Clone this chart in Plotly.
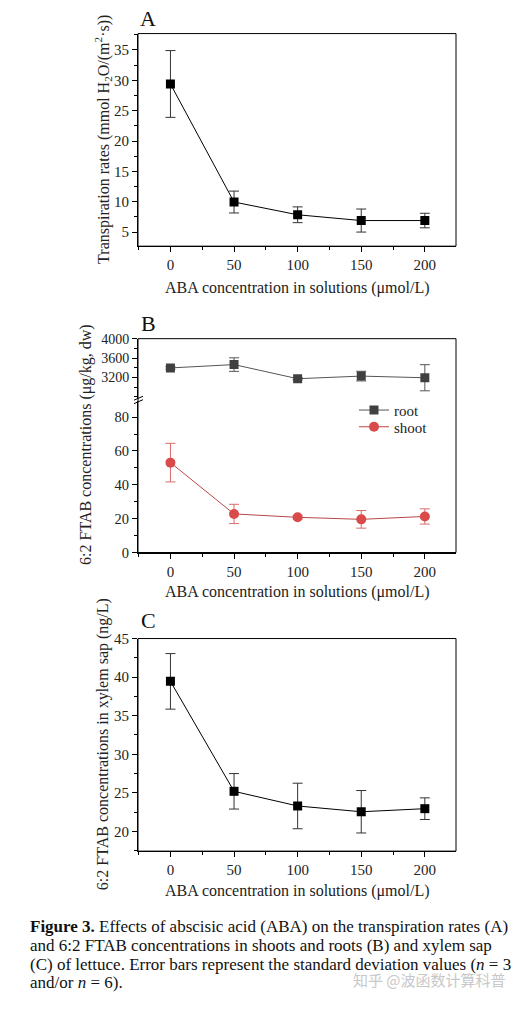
import plotly.graph_objects as go

# ---------------- data ----------------
aba = [0, 50, 100, 150, 200]
x_ticks = [0, 50, 100, 150, 200]

transp = [29.4, 9.95, 7.85, 6.9, 6.9]
transp_sd = [5.5, 1.8, 1.3, 1.9, 1.2]

root = [3395, 3464, 3172, 3226, 3192]
root_sd = [25, 140, 25, 100, 270]

shoot = [53.1, 22.8, 20.8, 19.6, 21.3]
shoot_sd = [11.4, 5.7, 1.0, 5.2, 4.5]

xylem = [39.45, 25.2, 23.3, 22.55, 22.95]
xylem_sd = [3.6, 2.3, 2.95, 2.75, 1.4]

a_ticks = [5, 10, 15, 20, 25, 30, 35]
b_up_ticks = [3200, 3600, 4000]
b_low_ticks = [0, 20, 40, 60, 80]
c_ticks = [20, 25, 30, 35, 40, 45]

x_title = "ABA concentration in solutions (μmol/L)"
caption_lines = [
    "<b>Figure 3.</b> Effects of abscisic acid (ABA) on the transpiration rates (A)",
    "and 6:2 FTAB concentrations in shoots and roots (B) and xylem sap",
    "(C) of lettuce. Error bars represent the standard deviation values (<i>n</i> = 3",
    "and/or <i>n</i> = 6).",
]

# ---------------- geometry helpers ----------------
W, H = 526, 1009
def px(x):
    return x / W
def py(y):
    return 1 - y / H

FONT = "Liberation Serif"
XL, XR = 138, 456
A_T, A_B = 26, 242
BU_T, BU_B = 336, 396
BL_T, BL_B = 399, 553.3
C_T, C_B = 640.7, 856.7

fig = go.Figure()

def err(vals, color):
    return dict(type="data", array=vals, visible=True, color=color,
                thickness=1, width=5)

# Panel A
fig.add_trace(go.Scatter(x=aba, y=transp, mode="lines+markers", xaxis="x", yaxis="y",
                         line=dict(color="black", width=1),
                         marker=dict(symbol="square", size=9, color="black"),
                         error_y=err(transp_sd, "#333333"), showlegend=False))
# Panel B
fig.add_trace(go.Scatter(x=aba, y=root, mode="lines+markers", xaxis="x2", yaxis="y3",
                         name="root", legend="legend",
                         line=dict(color="#555555", width=1),
                         marker=dict(symbol="square", size=9, color="#404040"),
                         error_y=err(root_sd, "#555555"), showlegend=True))
fig.add_trace(go.Scatter(x=aba, y=shoot, mode="lines+markers", xaxis="x2", yaxis="y2",
                         name="shoot", legend="legend2",
                         line=dict(color="#b84848", width=1),
                         marker=dict(symbol="circle", size=10, color="#d94a4a"),
                         error_y=err(shoot_sd, "#d86a6a"), showlegend=True))
# Panel C
fig.add_trace(go.Scatter(x=aba, y=xylem, mode="lines+markers", xaxis="x3", yaxis="y4",
                         line=dict(color="black", width=1),
                         marker=dict(symbol="square", size=9, color="black"),
                         error_y=err(xylem_sd, "#333333"), showlegend=False))

tickfont = dict(family=FONT, size=15, color="#222222")

def xax(anchor):
    return dict(domain=[px(XL), px(XR)], anchor=anchor, range=[-25.5, 224.5],
                tickvals=x_ticks, ticks="outside", ticklen=5, tickcolor="black",
                showline=True, linecolor="black", linewidth=1, showgrid=False,
                zeroline=False, tickfont=tickfont,
                minor=dict(dtick=25, tick0=0, ticks="outside", ticklen=3,
                           tickcolor="black", showgrid=False))

def yax(anchor, dom, rng, tv, mdt, fs=15):
    return dict(domain=dom, anchor=anchor, range=rng, tickvals=tv,
                ticks="outside", ticklen=5, tickcolor="black",
                showline=True, linecolor="black", linewidth=1, showgrid=False,
                zeroline=False, tickfont=dict(family=FONT, size=fs, color="#222222"),
                minor=dict(dtick=mdt, tick0=0, ticks="outside", ticklen=3,
                           tickcolor="black", showgrid=False))

legfont = dict(family=FONT, size=15, color="#222222")
layout = dict(
    width=W, height=H, margin=dict(l=0, r=0, t=0, b=0),
    paper_bgcolor="white", plot_bgcolor="white",
    font=dict(family=FONT, color="#222222"),
    xaxis=xax("y"),
    xaxis2=xax("y2"),
    xaxis3=xax("y4"),
    yaxis=yax("x", [py(A_B), py(A_T)], [2.68, 37.7], a_ticks, 2.5),
    yaxis2=yax("x2", [py(BL_B), py(BL_T)], [0, 89.7], b_low_ticks, 10, 14.5),
    yaxis3=yax("x2", [py(BU_B), py(BU_T)], [2779, 4000], b_up_ticks, 200, 14),
    yaxis4=yax("x3", [py(C_B), py(C_T)], [17.45, 45], c_ticks, 2.5),
    legend=dict(x=px(354), y=py(392), xanchor="left", yanchor="top",
                bgcolor="rgba(0,0,0,0)", font=legfont, itemwidth=30),
    legend2=dict(x=px(354), y=py(409), xanchor="left", yanchor="top",
                 bgcolor="rgba(0,0,0,0)", font=legfont, itemwidth=30),
)
fig.update_layout(**layout)

# frames
shapes = []
for t, b in [(A_T, A_B), (BU_T, BL_B), (C_T, C_B)]:
    shapes.append(dict(type="rect", xref="paper", yref="paper",
                       x0=px(XL), x1=px(XR), y0=py(b), y1=py(t),
                       line=dict(color="black", width=1), layer="above"))
# axis break marks
for dy in (0, 3.5):
    shapes.append(dict(type="line", xref="paper", yref="paper",
                       x0=px(134), y0=py(399 + dy - 0.5), x1=px(143), y1=py(395 + dy - 0.5),
                       line=dict(color="black", width=1)))
fig.update_layout(shapes=shapes)

ann = []
# panel letters
for letter, yc in [("A", 11), ("B", 321), ("C", 622)]:
    ann.append(dict(text=letter, x=px(148), y=py(yc), xref="paper", yref="paper",
                    xanchor="center", yanchor="middle", showarrow=False,
                    font=dict(family=FONT, size=22, color="#111111")))
# x titles
for yc in (285, 593, 897):
    ann.append(dict(text=x_title, x=px(297), y=py(yc), xref="paper", yref="paper",
                    xanchor="center", yanchor="middle", showarrow=False,
                    font=dict(family=FONT, size=16, color="#222222")))
# y titles
ytitles = [
    ("Transpiration rates (mmol H<sub>2</sub>O/(m<sup>2</sup>·s))", 103, 134),
    ("6:2 FTAB concentrations (μg/kg, dw)", 86, 444),
    ("6:2 FTAB concentrations in xylem sap (ng/L)", 103, 748),
]
for txt, xc, yc in ytitles:
    ann.append(dict(text=txt, x=px(xc), y=py(yc), xref="paper", yref="paper",
                    xanchor="center", yanchor="middle", showarrow=False, textangle=-90,
                    font=dict(family=FONT, size=16, color="#222222")))
# caption
for line, yc in zip(caption_lines, [933, 952.5, 971.5, 990]):
    ann.append(dict(text=line, x=px(28), y=py(yc), xref="paper", yref="paper",
                    xanchor="left", yanchor="middle", showarrow=False,
                    font=dict(family=FONT, size=17, color="#111111")))
# watermark
ann.append(dict(text="知乎 @波函数计算科普", x=px(508), y=py(987), xref="paper", yref="paper",
                xanchor="right", yanchor="middle", showarrow=False,
                font=dict(family="Noto Sans CJK SC", size=15, color="#c8c8c8")))
fig.update_layout(annotations=ann)

fig.write_html("out.html")
